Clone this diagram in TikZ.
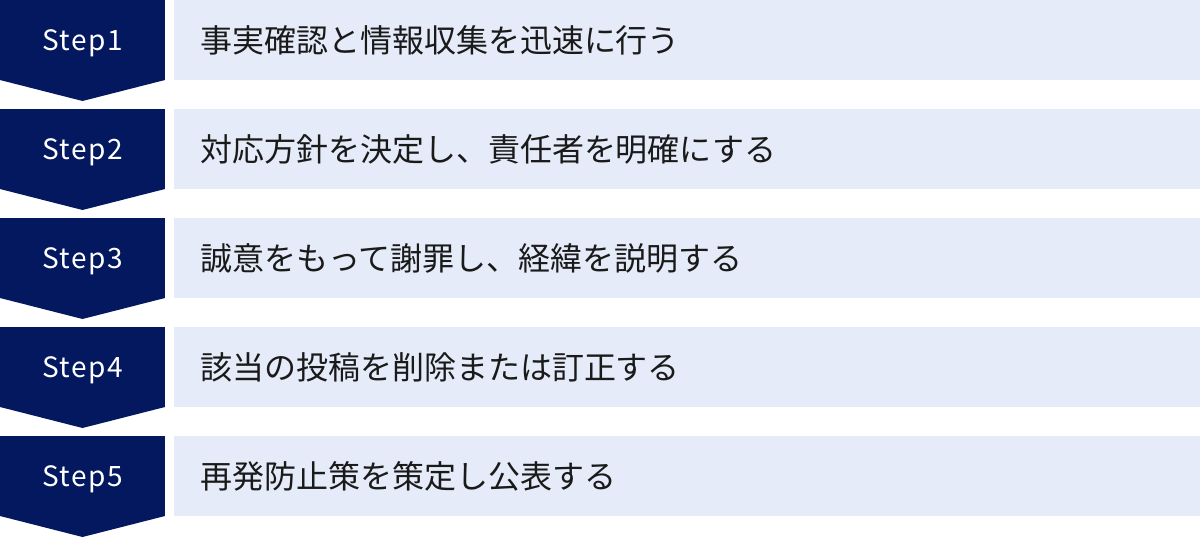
\documentclass[tikz,border=0pt]{standalone}
\usepackage{fontspec}
\setmainfont{Noto Sans CJK JP}
\usetikzlibrary{positioning}
\definecolor{stepnavy}{RGB}{4,24,96}
\definecolor{boxblue}{RGB}{229,235,248}
\definecolor{textdark}{RGB}{26,26,26}
\tikzset{
  stephead/.style={fill=stepnavy,text=white,minimum width=165pt,minimum height=80pt,
    inner sep=0pt,outer sep=0pt,text height=20.5pt,text depth=0pt,
    font=\fontsize{28}{32}\selectfont\addfontfeature{LetterSpace=5}},
  stepbox/.style={fill=boxblue,text=textdark,minimum height=80pt,text width=974pt,
    inner xsep=26pt,inner ysep=0pt,outer sep=0pt,align=left,font=\fontsize{32}{36}\selectfont},
  steptip/.style={fill=stepnavy}
}
\begin{document}
\begin{tikzpicture}
		\useasboundingbox (0,0) rectangle (1200pt,-538pt);
		\node[stephead,anchor=north west] (s1) at (0,0) {Step1};
		\node[stephead,below=29pt of s1] (s2) {Step2};
		\node[stephead,below=29pt of s2] (s3) {Step3};
		\node[stephead,below=29pt of s3] (s4) {Step4};
		\node[stephead,below=29pt of s4] (s5) {Step5};
		
		\fill[steptip] (s1.south west) -- (s1.south east) -- ([yshift=-21pt]s1.south) -- cycle;
		\fill[steptip] (s2.south west) -- (s2.south east) -- ([yshift=-21pt]s2.south) -- cycle;
		\fill[steptip] (s3.south west) -- (s3.south east) -- ([yshift=-21pt]s3.south) -- cycle;
		\fill[steptip] (s4.south west) -- (s4.south east) -- ([yshift=-21pt]s4.south) -- cycle;
		\fill[steptip] (s5.south west) -- (s5.south east) -- ([yshift=-21pt]s5.south) -- cycle;
		
		\node[stepbox,right=9pt of s1] (t1) {事実確認と情報収集を迅速に行う};
		\node[stepbox,right=9pt of s2] (t2) {対応方針を決定し、責任者を明確にする};
		\node[stepbox,right=9pt of s3] (t3) {誠意をもって謝罪し、経緯を説明する};
		\node[stepbox,right=9pt of s4] (t4) {該当の投稿を削除または訂正する};
		\node[stepbox,right=9pt of s5] (t5) {再発防止策を策定し公表する};
	\end{tikzpicture}
\end{document}
